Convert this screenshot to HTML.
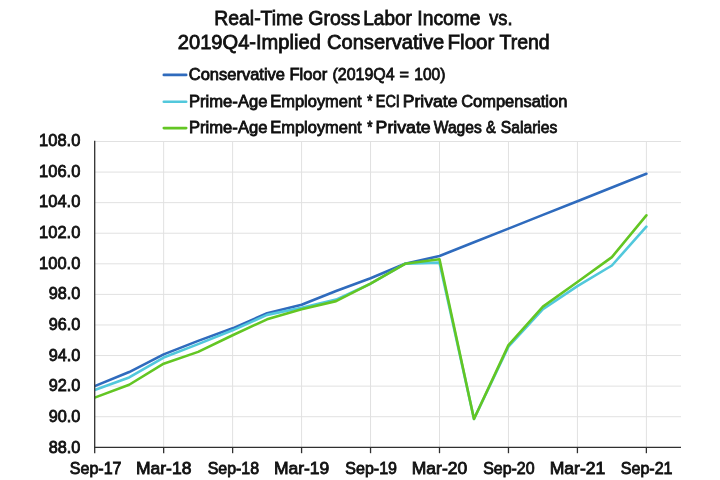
<!DOCTYPE html>
<html><head><meta charset="utf-8"><title>Real-Time Gross Labor Income</title>
<style>
html,body{margin:0;padding:0;background:#fff;}
body{width:720px;height:480px;overflow:hidden;}
svg{display:block;}
text{font-family:"Liberation Sans",sans-serif;fill:#101010;stroke:#101010;stroke-width:0.8px;}
.grid line{stroke:#e1e1e1;stroke-width:1;}
.axis line{stroke:#303030;stroke-width:1.3;}
.ser polyline{fill:none;stroke-width:2.6;stroke-linejoin:round;stroke-linecap:round;}
</style></head><body>
<svg width="720" height="480" viewBox="0 0 720 480">
<rect width="720" height="480" fill="#fff"/>
<g class="grid">
<line x1="94.7" x2="681.0" y1="141.50" y2="141.50"/>
<line x1="94.7" x2="681.0" y1="172.08" y2="172.08"/>
<line x1="94.7" x2="681.0" y1="202.66" y2="202.66"/>
<line x1="94.7" x2="681.0" y1="233.24" y2="233.24"/>
<line x1="94.7" x2="681.0" y1="263.82" y2="263.82"/>
<line x1="94.7" x2="681.0" y1="294.40" y2="294.40"/>
<line x1="94.7" x2="681.0" y1="324.98" y2="324.98"/>
<line x1="94.7" x2="681.0" y1="355.56" y2="355.56"/>
<line x1="94.7" x2="681.0" y1="386.14" y2="386.14"/>
<line x1="94.7" x2="681.0" y1="416.72" y2="416.72"/>
<line x1="163.66" x2="163.66" y1="141" y2="447.3"/>
<line x1="232.62" x2="232.62" y1="141" y2="447.3"/>
<line x1="301.58" x2="301.58" y1="141" y2="447.3"/>
<line x1="370.54" x2="370.54" y1="141" y2="447.3"/>
<line x1="439.50" x2="439.50" y1="141" y2="447.3"/>
<line x1="508.46" x2="508.46" y1="141" y2="447.3"/>
<line x1="577.42" x2="577.42" y1="141" y2="447.3"/>
<line x1="646.38" x2="646.38" y1="141" y2="447.3"/>
</g>
<clipPath id="plot"><rect x="94.7" y="130" width="600" height="330"/></clipPath>
<g class="ser" clip-path="url(#plot)">
<polyline stroke="#2f6bbd" points="94.70,386.14 129.18,372.07 163.66,354.34 198.14,340.88 232.62,328.34 267.10,313.21 301.58,304.80 336.06,291.04 370.54,278.19 405.02,263.82 439.50,256.02 473.98,242.31 508.46,228.60 542.94,214.89 577.42,201.18 611.90,187.47 646.38,173.76"/>
<polyline stroke="#52c8dc" points="94.70,389.96 129.18,377.42 163.66,357.55 198.14,344.09 232.62,330.33 267.10,314.89 301.58,307.70 336.06,299.60 370.54,283.70 405.02,263.82 439.50,262.60 473.98,418.86 508.46,346.69 542.94,309.23 577.42,286.14 611.90,265.50 646.38,226.67"/>
<polyline stroke="#63c623" points="94.70,397.61 129.18,384.76 163.66,363.66 198.14,351.89 232.62,335.22 267.10,319.32 301.58,309.23 336.06,301.13 370.54,283.70 405.02,263.82 439.50,259.23 473.98,419.01 508.46,345.16 542.94,306.63 577.42,282.02 611.90,257.09 646.38,215.35"/>
</g>
<g class="axis">
<line x1="94.7" x2="94.7" y1="140.8" y2="453.2"/>
<line x1="94.05" x2="681.0" y1="447.3" y2="447.3"/>
<line x1="163.66" x2="163.66" y1="447.3" y2="453.2"/>
<line x1="232.62" x2="232.62" y1="447.3" y2="453.2"/>
<line x1="301.58" x2="301.58" y1="447.3" y2="453.2"/>
<line x1="370.54" x2="370.54" y1="447.3" y2="453.2"/>
<line x1="439.50" x2="439.50" y1="447.3" y2="453.2"/>
<line x1="508.46" x2="508.46" y1="447.3" y2="453.2"/>
<line x1="577.42" x2="577.42" y1="447.3" y2="453.2"/>
<line x1="646.38" x2="646.38" y1="447.3" y2="453.2"/>
</g>
<g font-size="16.2">
<text y="146.0"><tspan x="39.14" textLength="41.23" lengthAdjust="spacingAndGlyphs">108.0</tspan></text>
<text y="176.7"><tspan x="39.14" textLength="41.23" lengthAdjust="spacingAndGlyphs">106.0</tspan></text>
<text y="207.3"><tspan x="39.14" textLength="41.23" lengthAdjust="spacingAndGlyphs">104.0</tspan></text>
<text y="238.0"><tspan x="39.14" textLength="41.23" lengthAdjust="spacingAndGlyphs">102.0</tspan></text>
<text y="268.7"><tspan x="39.14" textLength="41.23" lengthAdjust="spacingAndGlyphs">100.0</tspan></text>
<text y="299.3"><tspan x="48.65" textLength="31.72" lengthAdjust="spacingAndGlyphs">98.0</tspan></text>
<text y="330.0"><tspan x="48.65" textLength="31.72" lengthAdjust="spacingAndGlyphs">96.0</tspan></text>
<text y="360.7"><tspan x="48.65" textLength="31.72" lengthAdjust="spacingAndGlyphs">94.0</tspan></text>
<text y="391.4"><tspan x="48.65" textLength="31.72" lengthAdjust="spacingAndGlyphs">92.0</tspan></text>
<text y="422.0"><tspan x="48.65" textLength="31.72" lengthAdjust="spacingAndGlyphs">90.0</tspan></text>
<text y="452.7"><tspan x="48.65" textLength="31.72" lengthAdjust="spacingAndGlyphs">88.0</tspan></text>
</g>
<g font-size="16.2">
<text y="474.1"><tspan x="69.85" textLength="51.70" lengthAdjust="spacingAndGlyphs">Sep-17</tspan></text>
<text y="474.1"><tspan x="136.02" textLength="55.38" lengthAdjust="spacingAndGlyphs">Mar-18</tspan></text>
<text y="474.1"><tspan x="207.65" textLength="51.45" lengthAdjust="spacingAndGlyphs">Sep-18</tspan></text>
<text y="474.1"><tspan x="273.92" textLength="55.38" lengthAdjust="spacingAndGlyphs">Mar-19</tspan></text>
<text y="474.1"><tspan x="345.35" textLength="51.70" lengthAdjust="spacingAndGlyphs">Sep-19</tspan></text>
<text y="474.1"><tspan x="411.82" textLength="55.38" lengthAdjust="spacingAndGlyphs">Mar-20</tspan></text>
<text y="474.1"><tspan x="483.15" textLength="51.45" lengthAdjust="spacingAndGlyphs">Sep-20</tspan></text>
<text y="474.1"><tspan x="549.71" textLength="55.66" lengthAdjust="spacingAndGlyphs">Mar-21</tspan></text>
<text y="474.1"><tspan x="620.85" textLength="51.70" lengthAdjust="spacingAndGlyphs">Sep-21</tspan></text>
</g>
<g font-size="20.0">
<text y="24.9"><tspan x="214.29" textLength="88.70" lengthAdjust="spacingAndGlyphs">Real-Time</tspan> <tspan x="308.31" textLength="52.02" lengthAdjust="spacingAndGlyphs">Gross</tspan> <tspan x="363.31" textLength="48.60" lengthAdjust="spacingAndGlyphs">Labor</tspan> <tspan x="417.35" textLength="63.22" lengthAdjust="spacingAndGlyphs">Income</tspan> <tspan x="489.25" textLength="23.24" lengthAdjust="spacingAndGlyphs">vs.</tspan></text>
<text y="48.55"><tspan x="177.80" textLength="143.02" lengthAdjust="spacingAndGlyphs">2019Q4-Implied</tspan> <tspan x="327.00" textLength="117.27" lengthAdjust="spacingAndGlyphs">Conservative</tspan> <tspan x="447.52" textLength="46.81" lengthAdjust="spacingAndGlyphs">Floor</tspan> <tspan x="499.50" textLength="50.19" lengthAdjust="spacingAndGlyphs">Trend</tspan></text>
</g>
<g class="ser">
<polyline stroke="#2f6bbd" points="163.8,74.9 186.2,74.9"/>
<polyline stroke="#52c8dc" points="163.8,101.8 186.2,101.8"/>
<polyline stroke="#63c623" points="163.8,128.1 186.2,128.1"/>
</g>
<g font-size="16.2">
<text y="80.2"><tspan x="188.79" textLength="96.20" lengthAdjust="spacingAndGlyphs">Conservative</tspan> <tspan x="289.48" textLength="37.71" lengthAdjust="spacingAndGlyphs">Floor</tspan> <tspan x="332.51" textLength="61.99" lengthAdjust="spacingAndGlyphs">(2019Q4</tspan> <tspan x="399.50" textLength="9.47" lengthAdjust="spacingAndGlyphs">=</tspan> <tspan x="414.28" textLength="31.05" lengthAdjust="spacingAndGlyphs">100)</tspan></text>
<text y="106.5"><tspan x="188.97" textLength="78.51" lengthAdjust="spacingAndGlyphs">Prime-Age</tspan> <tspan x="270.28" textLength="91.43" lengthAdjust="spacingAndGlyphs">Employment</tspan> <tspan x="367.21" textLength="5.24" lengthAdjust="spacingAndGlyphs">*</tspan> <tspan x="375.81" textLength="24.08" lengthAdjust="spacingAndGlyphs">ECI</tspan> <tspan x="402.71" textLength="54.71" lengthAdjust="spacingAndGlyphs">Private</tspan> <tspan x="461.19" textLength="106.16" lengthAdjust="spacingAndGlyphs">Compensation</tspan></text>
<text y="132.8"><tspan x="188.97" textLength="78.51" lengthAdjust="spacingAndGlyphs">Prime-Age</tspan> <tspan x="270.28" textLength="91.43" lengthAdjust="spacingAndGlyphs">Employment</tspan> <tspan x="367.21" textLength="5.24" lengthAdjust="spacingAndGlyphs">*</tspan> <tspan x="375.61" textLength="55.12" lengthAdjust="spacingAndGlyphs">Private</tspan> <tspan x="433.78" textLength="47.99" lengthAdjust="spacingAndGlyphs">Wages</tspan> <tspan x="486.07" textLength="9.76" lengthAdjust="spacingAndGlyphs">&amp;</tspan> <tspan x="500.76" textLength="56.67" lengthAdjust="spacingAndGlyphs">Salaries</tspan></text>
</g>
</svg></body></html>
